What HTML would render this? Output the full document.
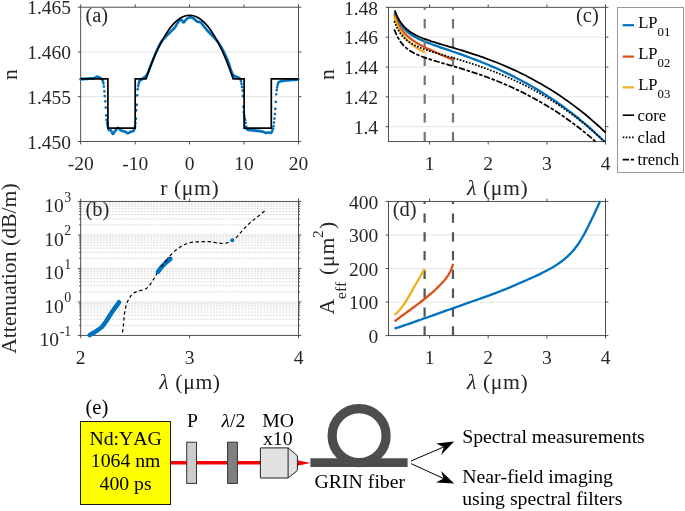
<!DOCTYPE html>
<html><head><meta charset="utf-8"><title>Figure</title>
<style>html,body{margin:0;padding:0;background:#fff}svg{display:block}text{font-family:"Liberation Serif",serif;fill:#262626;font-kerning:none}text.k{fill:#000}</style>
</head><body>
<svg width="685" height="511" viewBox="0 0 685 511">
<rect width="685" height="511" fill="#fff"/>
<g id="panel-a">
<path d="M80.7 96.7 H298.5 M80.7 52 H298.5 " stroke="#e4e4e4" stroke-width="1" fill="none"/>
<rect x="80.7" y="7.2" width="217.8" height="134.3" fill="none" stroke="#3d3d3d" stroke-width="0.9"/>
<path d="M80.7 141.5 v2.9 M80.7 7.2 v-2.9 M135.2 141.5 v2.9 M135.2 7.2 v-2.9 M189.6 141.5 v2.9 M189.6 7.2 v-2.9 M244.1 141.5 v2.9 M244.1 7.2 v-2.9 M298.5 141.5 v2.9 M298.5 7.2 v-2.9 M80.7 141.5 h-2.9 M298.5 141.5 h2.9 M80.7 96.7 h-2.9 M298.5 96.7 h2.9 M80.7 52 h-2.9 M298.5 52 h2.9 M80.7 7.2 h-2.9 M298.5 7.2 h2.9 " stroke="#3d3d3d" stroke-width="0.9" fill="none"/>
<path d="M80.5 79.3h0M81 79.3h0M81.4 79.2h0M81.9 79.2h0M82.3 79.2h0M82.8 79.1h0M83.2 79.1h0M83.7 79.1h0M84.1 79.1h0M84.6 79h0M85 79h0M85.5 79h0M85.9 78.9h0M86.4 78.9h0M86.8 78.9h0M87.3 78.8h0M87.7 78.8h0M88.2 78.8h0M88.6 78.7h0M89.1 78.7h0M89.5 78.6h0M90 78.6h0M90.4 78.6h0M90.9 78.5h0M91.3 78.5h0M91.8 78.5h0M92.2 78.5h0M92.7 78.4h0M93.1 78.4h0M93.6 78.3h0M94 78.2h0M94.5 78h0M94.9 77.8h0M95.4 77.6h0M95.8 77.3h0M96.3 77.1h0M96.7 76.9h0M97.2 76.8h0M97.6 76.8h0M98.1 77h0M98.5 77.2h0M99 77.4h0M99.4 77.7h0M99.9 77.9h0M100.3 78.2h0M100.8 78.4h0M101.2 78.8h0M101.7 79.1h0M102.1 79.6h0M102.6 80.3h0M103 81.6h0M103.5 83.6h0M103.9 86.6h0M104.4 91.3h0M104.8 96.1h0M105.3 101.3h0M105.7 107.6h0M106.2 115.4h0M106.6 119.9h0M107.1 122.9h0M107.5 125.3h0M108 127.2h0M108.4 129.2h0M108.9 129.9h0M109.3 130.1h0M109.8 130.1h0M110.2 130.2h0M110.7 130.3h0M111.1 130.7h0M111.6 131.5h0M112 132.7h0M112.5 133.6h0M112.9 134h0M113.4 133.8h0M113.8 133.2h0M114.3 132.5h0M114.7 131.8h0M115.2 131.1h0M115.6 130.4h0M116.1 129.8h0M116.5 129.1h0M117 128.5h0M117.4 128.1h0M117.9 127.9h0M118.3 128h0M118.8 128.3h0M119.2 128.8h0M119.7 129.2h0M120.1 129.7h0M120.6 130.2h0M121 130.6h0M121.5 130.8h0M121.9 131h0M122.4 131.1h0M122.8 131.2h0M123.3 131.2h0M123.7 131.3h0M124.2 131.4h0M124.6 131.5h0M125.1 131.7h0M125.5 132h0M126 132.3h0M126.4 132.6h0M126.9 132.9h0M127.3 133.1h0M127.8 133.2h0M128.2 133.1h0M128.7 133h0M129.1 132.8h0M129.6 132.5h0M130 132.2h0M130.5 131.9h0M130.9 131.7h0M131.4 131.5h0M131.8 131.3h0M132.3 131.3h0M132.7 131.2h0M133.2 131.1h0M133.6 130.8h0M134.1 130.1h0M134.5 128.6h0M135 126.2h0M135.4 123h0M135.9 118.7h0M136.3 110.3h0M136.8 104.8h0M137.2 95.3h0M137.7 89.4h0M138.1 86.3h0M138.6 84.1h0M139 82.3h0M139.5 81.1h0M139.9 80.8h0M140.3 80.4h0M140.8 80.1h0M141.2 79.8h0M141.7 79.5h0M142.1 79.1h0M142.6 78.8h0M143 78.4h0M143.5 78.1h0M143.9 77.7h0M144.4 77.4h0M144.8 77.1h0M145.3 76.7h0M145.7 76.3h0M146.2 75.8h0M146.6 75.1h0M147.1 74.4h0M147.5 73.5h0M148 72.5h0M148.4 71.4h0M148.9 70.2h0M149.3 69h0M149.8 67.9h0M150.2 66.7h0M150.7 65.6h0M151.1 64.5h0M151.6 63.3h0M152 62.2h0M152.5 61h0M152.9 59.9h0M153.4 58.7h0M153.8 57.6h0M154.3 56.5h0M154.7 55.4h0M155.2 54.3h0M155.6 53.2h0M156.1 52.2h0M156.5 51.2h0M157 50.2h0M157.4 49.2h0M157.9 48.2h0M158.3 47.3h0M158.8 46.4h0M159.2 45.5h0M159.7 44.6h0M160.1 43.8h0M160.6 43.1h0M161 42.4h0M161.5 41.7h0M161.9 41.1h0M162.4 40.5h0M162.8 40h0M163.3 39.5h0M163.7 39h0M164.2 38.5h0M164.6 38h0M165.1 37.5h0M165.5 37h0M166 36.5h0M166.4 36h0M166.9 35.5h0M167.3 35.1h0M167.8 34.6h0M168.2 34.2h0M168.7 33.7h0M169.1 33.3h0M169.6 32.8h0M170 32.4h0M170.5 31.9h0M170.9 31.5h0M171.4 31.1h0M171.8 30.7h0M172.3 30.2h0M172.7 29.8h0M173.2 29.4h0M173.6 28.9h0M174.1 28.4h0M174.5 27.9h0M175 27.4h0M175.4 26.7h0M175.9 26.1h0M176.3 25.3h0M176.8 24.5h0M177.2 23.7h0M177.7 23h0M178.1 22.2h0M178.6 21.5h0M179 20.9h0M179.5 20.4h0M179.9 20.1h0M180.4 19.9h0M180.8 19.8h0M181.3 19.9h0M181.7 20.1h0M182.2 20.7h0M182.6 21.5h0M183.1 22.2h0M183.5 22.5h0M184 22.3h0M184.4 21.8h0M184.9 21.2h0M185.3 20.6h0M185.8 20h0M186.2 19.5h0M186.7 19.1h0M187.1 18.7h0M187.6 18.4h0M188 18.2h0M188.5 17.9h0M188.9 17.7h0M189.4 17.6h0M189.8 17.5h0M190.3 17.5h0M190.7 17.5h0M191.2 17.5h0M191.6 17.6h0M192.1 17.8h0M192.5 18h0M193 18.2h0M193.4 18.4h0M193.9 18.8h0M194.3 19.1h0M194.8 19.5h0M195.2 19.9h0M195.7 20.3h0M196.1 20.7h0M196.6 21.1h0M197 21.4h0M197.5 21.7h0M197.9 21.9h0M198.4 21.9h0M198.8 22h0M199.3 22h0M199.7 22.1h0M200.2 22.2h0M200.6 22.4h0M201.1 22.8h0M201.5 23.3h0M202 23.8h0M202.4 24.4h0M202.9 25.1h0M203.3 25.7h0M203.8 26.3h0M204.2 26.9h0M204.7 27.4h0M205.1 28h0M205.6 28.5h0M206 29.1h0M206.5 29.6h0M206.9 30.2h0M207.4 30.7h0M207.8 31.2h0M208.3 31.7h0M208.7 32.2h0M209.2 32.6h0M209.6 33.1h0M210.1 33.5h0M210.5 34h0M211 34.4h0M211.4 34.8h0M211.9 35.3h0M212.3 35.7h0M212.8 36.2h0M213.2 36.7h0M213.7 37.1h0M214.1 37.6h0M214.6 38.1h0M215 38.6h0M215.5 39.1h0M215.9 39.6h0M216.4 40.1h0M216.8 40.7h0M217.3 41.2h0M217.7 41.8h0M218.2 42.4h0M218.6 43.1h0M219.1 43.8h0M219.5 44.4h0M220 45.1h0M220.4 45.9h0M220.9 46.6h0M221.3 47.4h0M221.8 48.2h0M222.2 49h0M222.7 49.8h0M223.1 50.7h0M223.6 51.6h0M224 52.4h0M224.5 53.4h0M224.9 54.3h0M225.4 55.2h0M225.8 56.2h0M226.3 57.2h0M226.7 58.2h0M227.2 59.2h0M227.6 60.3h0M228.1 61.4h0M228.5 62.5h0M229 63.8h0M229.4 65.1h0M229.9 66.6h0M230.3 68h0M230.8 69.5h0M231.2 70.8h0M231.7 72h0M232.1 73h0M232.6 74h0M233 74.8h0M233.5 75.6h0M233.9 76.4h0M234.4 76h0M234.8 76.2h0M235.3 76.4h0M235.7 76.5h0M236.2 76.7h0M236.6 76.9h0M237.1 77.1h0M237.5 77.3h0M238 77.5h0M238.4 77.7h0M238.9 77.9h0M239.3 78.2h0M239.8 78.5h0M240.2 79h0M240.7 79.9h0M241.1 81.6h0M241.6 84.1h0M242 87.1h0M242.5 90.6h0M242.9 96.2h0M243.4 106.8h0M243.8 112.3h0M244.3 115.4h0M244.7 118h0M245.2 120.2h0M245.6 123h0M246.1 126.6h0M246.5 128.9h0M247 129.6h0M247.4 129.7h0M247.9 129.8h0M248.3 129.9h0M248.8 129.9h0M249.2 130h0M249.7 130.1h0M250.1 130.1h0M250.6 130.2h0M251 130.2h0M251.5 130.3h0M251.9 130.3h0M252.4 130.4h0M252.8 130.4h0M253.3 130.5h0M253.7 130.5h0M254.2 130.6h0M254.6 130.6h0M255.1 130.7h0M255.5 130.7h0M256 130.8h0M256.4 130.8h0M256.9 130.9h0M257.3 130.9h0M257.8 131h0M258.2 131h0M258.7 131.1h0M259.1 131.1h0M259.6 131.2h0M260 131.2h0M260.5 131.3h0M260.9 131.3h0M261.4 131.4h0M261.8 131.5h0M262.3 131.6h0M262.7 131.7h0M263.2 131.9h0M263.6 132h0M264.1 132.2h0M264.5 132.4h0M265 132.6h0M265.4 132.7h0M265.9 132.9h0M266.3 132.9h0M266.8 132.9h0M267.2 132.8h0M267.7 132.6h0M268.1 132.5h0M268.6 132.4h0M269 132.5h0M269.5 132.6h0M269.9 132.8h0M270.4 133h0M270.8 133h0M271.3 132.7h0M271.7 132.2h0M272.2 131.2h0M272.6 130h0M273.1 128.5h0M273.5 126h0M274 122.6h0M274.4 118.6h0M274.9 114.1h0M275.3 108.9h0M275.8 101.9h0M276.2 94.3h0M276.7 90.2h0M277.1 87.6h0M277.6 85.3h0M278 83.5h0M278.5 82.6h0M278.9 82.2h0M279.4 81.9h0M279.8 81.7h0M280.3 81.5h0M280.7 81.4h0M281.2 81.2h0M281.6 81.1h0M282.1 81h0M282.5 81h0M283 80.9h0M283.4 80.8h0M283.9 80.8h0M284.3 80.7h0M284.8 80.6h0M285.2 80.6h0M285.7 80.5h0M286.1 80.5h0M286.6 80.4h0M287 80.4h0M287.5 80.4h0M287.9 80.3h0M288.4 80.3h0M288.8 80.2h0M289.3 80.2h0M289.7 80.2h0M290.2 80.1h0M290.6 80.1h0M291.1 80.1h0M291.5 80h0M292 80h0M292.4 80h0M292.9 79.9h0M293.3 79.9h0M293.8 79.9h0M294.2 79.8h0M294.7 79.8h0M295.1 79.8h0M295.6 79.8h0M296 79.7h0M296.5 79.7h0M296.9 79.7h0M297.4 79.7h0M297.8 79.6h0M298.3 79.6h0" fill="none" stroke="#0072BD" stroke-width="2.7" stroke-linecap="round"/>
<path d="M80.7 78.8 L107.9 78.8 L107.9 128.1 L135.2 128.1 L135.2 78.8 L146 78.8 L146 78.8 L148.8 71.1 L151.5 63.9 L154.2 57.2 L156.9 51 L159.7 45.3 L162.4 40.1 L165.1 35.4 L167.8 31.2 L170.5 27.4 L173.3 24.2 L176 21.5 L178.7 19.2 L181.4 17.5 L184.2 16.3 L186.9 15.5 L189.6 15.3 L192.3 15.5 L195 16.3 L197.8 17.5 L200.5 19.2 L203.2 21.5 L205.9 24.2 L208.7 27.4 L211.4 31.2 L214.1 35.4 L216.8 40.1 L219.5 45.3 L222.3 51 L225 57.2 L227.7 63.9 L230.4 71.1 L233.2 78.8 L233.2 78.8 L244.1 78.8 L244.1 128.1 L271.3 128.1 L271.3 78.8 L298.5 78.8" fill="none" stroke="#000" stroke-width="1.7" stroke-linejoin="miter"/>
<text x="71" y="148.6" font-size="19.5" text-anchor="end">1.450</text>
<text x="71" y="103.8" font-size="19.5" text-anchor="end">1.455</text>
<text x="71" y="59.1" font-size="19.5" text-anchor="end">1.460</text>
<text x="71" y="14.3" font-size="19.5" text-anchor="end">1.465</text>
<text x="80.7" y="170.1" font-size="19.5" text-anchor="middle">-20</text>
<text x="135.2" y="170.1" font-size="19.5" text-anchor="middle">-10</text>
<text x="189.6" y="170.1" font-size="19.5" text-anchor="middle">0</text>
<text x="244.1" y="170.1" font-size="19.5" text-anchor="middle">10</text>
<text x="298.5" y="170.1" font-size="19.5" text-anchor="middle">20</text>
<text x="189.8" y="195.2" font-size="21.7" text-anchor="middle" letter-spacing="0.6">r (μm)</text>
<text transform="translate(16.8 74.7) rotate(-90)" font-size="21.7" text-anchor="middle">n</text>
<text x="85.4" y="22.4" font-size="20.5" text-anchor="start">(a)</text>
</g>
<g id="panel-b">
<path d="M80.7 325.3 H298.5 M80.7 319.4 H298.5 M80.7 315.2 H298.5 M80.7 312 H298.5 M80.7 309.3 H298.5 M80.7 307.1 H298.5 M80.7 305.1 H298.5 M80.7 303.4 H298.5 M80.7 291.8 H298.5 M80.7 285.9 H298.5 M80.7 281.7 H298.5 M80.7 278.5 H298.5 M80.7 275.8 H298.5 M80.7 273.6 H298.5 M80.7 271.6 H298.5 M80.7 269.9 H298.5 M80.7 258.3 H298.5 M80.7 252.4 H298.5 M80.7 248.2 H298.5 M80.7 245 H298.5 M80.7 242.3 H298.5 M80.7 240.1 H298.5 M80.7 238.1 H298.5 M80.7 236.4 H298.5 M80.7 224.8 H298.5 M80.7 218.9 H298.5 M80.7 214.7 H298.5 M80.7 211.5 H298.5 M80.7 208.8 H298.5 M80.7 206.6 H298.5 M80.7 204.6 H298.5 M80.7 202.9 H298.5 " stroke="#d2d2d2" stroke-width="0.8" fill="none" stroke-dasharray="2 1.15"/>
<path d="M80.7 301.9 H298.5 M80.7 268.4 H298.5 M80.7 234.9 H298.5 " stroke="#e4e4e4" stroke-width="1" fill="none"/>
<rect x="80.7" y="201.4" width="217.8" height="134" fill="none" stroke="#3d3d3d" stroke-width="0.9"/>
<path d="M80.7 335.4 v2.9 M80.7 201.4 v-2.9 M189.6 335.4 v2.9 M189.6 201.4 v-2.9 M298.5 335.4 v2.9 M298.5 201.4 v-2.9 M80.7 335.4 h-2.9 M298.5 335.4 h2.9 M80.7 301.9 h-2.9 M298.5 301.9 h2.9 M80.7 268.4 h-2.9 M298.5 268.4 h2.9 M80.7 234.9 h-2.9 M298.5 234.9 h2.9 M80.7 201.4 h-2.9 M298.5 201.4 h2.9 M80.7 325.3 h-1.6 M298.5 325.3 h1.6 M80.7 319.4 h-1.6 M298.5 319.4 h1.6 M80.7 315.2 h-1.6 M298.5 315.2 h1.6 M80.7 312 h-1.6 M298.5 312 h1.6 M80.7 309.3 h-1.6 M298.5 309.3 h1.6 M80.7 307.1 h-1.6 M298.5 307.1 h1.6 M80.7 305.1 h-1.6 M298.5 305.1 h1.6 M80.7 303.4 h-1.6 M298.5 303.4 h1.6 M80.7 291.8 h-1.6 M298.5 291.8 h1.6 M80.7 285.9 h-1.6 M298.5 285.9 h1.6 M80.7 281.7 h-1.6 M298.5 281.7 h1.6 M80.7 278.5 h-1.6 M298.5 278.5 h1.6 M80.7 275.8 h-1.6 M298.5 275.8 h1.6 M80.7 273.6 h-1.6 M298.5 273.6 h1.6 M80.7 271.6 h-1.6 M298.5 271.6 h1.6 M80.7 269.9 h-1.6 M298.5 269.9 h1.6 M80.7 258.3 h-1.6 M298.5 258.3 h1.6 M80.7 252.4 h-1.6 M298.5 252.4 h1.6 M80.7 248.2 h-1.6 M298.5 248.2 h1.6 M80.7 245 h-1.6 M298.5 245 h1.6 M80.7 242.3 h-1.6 M298.5 242.3 h1.6 M80.7 240.1 h-1.6 M298.5 240.1 h1.6 M80.7 238.1 h-1.6 M298.5 238.1 h1.6 M80.7 236.4 h-1.6 M298.5 236.4 h1.6 M80.7 224.8 h-1.6 M298.5 224.8 h1.6 M80.7 218.9 h-1.6 M298.5 218.9 h1.6 M80.7 214.7 h-1.6 M298.5 214.7 h1.6 M80.7 211.5 h-1.6 M298.5 211.5 h1.6 M80.7 208.8 h-1.6 M298.5 208.8 h1.6 M80.7 206.6 h-1.6 M298.5 206.6 h1.6 M80.7 204.6 h-1.6 M298.5 204.6 h1.6 M80.7 202.9 h-1.6 M298.5 202.9 h1.6 " stroke="#3d3d3d" stroke-width="0.9" fill="none"/>
<path d="M122.5 332.5 L122.7 331.2 L122.9 329.9 L123.1 328.6 L123.2 327.3 L123.3 326 L123.4 324.7 L123.6 323.4 L123.7 322 L123.8 320.7 L123.9 319.4 L124 318.1 L124.1 316.8 L124.3 315.5 L124.4 314.2 L124.6 312.9 L124.8 311.6 L125 310.3 L125.3 309 L125.6 307.7 L125.9 306.5 L126.3 305.2 L126.7 303.9 L127.1 302.7 L127.6 301.4 L128.2 300.2 L128.8 299 L129.5 297.9 L130.2 296.8 L131 295.7 L131.9 294.8 L132.8 293.9 L133.8 293.1 L134.9 292.4 L136.1 291.9 L137.3 291.4 L138.6 291 L139.9 290.7 L141.2 290.3 L142.5 290 L143.7 289.7 L144.9 289.2 L146 288.7 L147 288 L148 287.2 L148.8 286.2 L149.6 285.2 L150.4 284.2 L151.1 283.1 L151.8 282 L152.5 280.8 L153.2 279.7 L153.9 278.6 L154.5 277.4 L155.2 276.3 L155.9 275.2 L156.6 274.1 L157.3 273 L158 271.8 L158.7 270.7 L159.4 269.6 L160.1 268.5 L160.9 267.4 L161.6 266.3 L162.4 265.2 L163.1 264.2 L163.9 263.1 L164.7 262 L165.5 261 L166.3 260 L167.2 258.9 L168 257.9 L168.9 256.9 L169.7 256 L170.6 255 L171.6 254.1 L172.5 253.1 L173.5 252.2 L174.4 251.4 L175.4 250.5 L176.4 249.7 L177.5 248.9 L178.5 248.1 L179.6 247.4 L180.7 246.6 L181.8 246 L183 245.3 L184.2 244.8 L185.3 244.2 L186.6 243.7 L187.8 243.3 L189 242.9 L190.3 242.6 L191.6 242.4 L192.9 242.2 L194.2 242 L195.6 241.9 L196.9 241.9 L198.2 241.8 L199.6 241.8 L200.9 241.7 L202.2 241.7 L203.5 241.6 L204.8 241.6 L206.1 241.6 L207.4 241.6 L208.7 241.7 L210 241.7 L211.3 241.9 L212.6 242.1 L213.9 242.3 L215.2 242.5 L216.6 242.8 L217.9 243 L219.2 243.2 L220.5 243.3 L221.8 243.4 L223.1 243.5 L224.4 243.4 L225.7 243.2 L227 242.9 L228.2 242.5 L229.4 242.1 L230.6 241.5 L231.8 240.9 L232.9 240.2 L233.9 239.4 L234.9 238.6 L235.9 237.7 L236.8 236.8 L237.7 235.8 L238.6 234.8 L239.5 233.8 L240.4 232.8 L241.3 231.8 L242.1 230.8 L243 229.8 L243.9 228.9 L244.8 227.9 L245.7 227 L246.6 226 L247.6 225.1 L248.5 224.2 L249.5 223.4 L250.4 222.5 L251.4 221.6 L252.4 220.8 L253.4 220 L254.5 219.1 L255.5 218.3 L256.6 217.5 L257.6 216.7 L258.6 215.9 L259.7 215.1 L260.7 214.3 L261.7 213.4 L262.8 212.6 L263.8 211.7 L264.7 210.9 L265.7 210" fill="none" stroke="#000" stroke-width="1.2" stroke-dasharray="3.4 2.6"/>
<path d="M89.8 335 L95 332 L102 327 L106 321.5 L112 312 L119 302.3" fill="none" stroke="#0072BD" stroke-width="4.6" stroke-linecap="round" stroke-linejoin="round"/>
<path d="M157.9 271.8 L161.5 267.2 L165.5 263 L170.4 259" fill="none" stroke="#0072BD" stroke-width="4.6" stroke-linecap="round" stroke-linejoin="round"/>
<circle cx="232.3" cy="240.2" r="2" fill="#0072BD"/>
<path d="M161 267 L165 262 L169.5 257" fill="none" stroke="#000" stroke-width="1.2" stroke-dasharray="3.4 2.6"/>
<text x="71.2" y="346.2" font-size="19.5" text-anchor="end">10<tspan font-size="13.8" dy="-10.6" dx="0.6">-1</tspan></text>
<text x="71.2" y="312.7" font-size="19.5" text-anchor="end">10<tspan font-size="13.8" dy="-10.6" dx="0.6">0</tspan></text>
<text x="71.2" y="279.2" font-size="19.5" text-anchor="end">10<tspan font-size="13.8" dy="-10.6" dx="0.6">1</tspan></text>
<text x="71.2" y="245.7" font-size="19.5" text-anchor="end">10<tspan font-size="13.8" dy="-10.6" dx="0.6">2</tspan></text>
<text x="71.2" y="212.2" font-size="19.5" text-anchor="end">10<tspan font-size="13.8" dy="-10.6" dx="0.6">3</tspan></text>
<text x="80.7" y="364" font-size="19.5" text-anchor="middle">2</text>
<text x="189.6" y="364" font-size="19.5" text-anchor="middle">3</text>
<text x="298.5" y="364" font-size="19.5" text-anchor="middle">4</text>
<text x="190" y="388.7" font-size="21.7" text-anchor="middle" letter-spacing="0.6"><tspan font-style="italic">λ</tspan> (μm)</text>
<text transform="translate(15.6 268.6) rotate(-90)" font-size="21.7" text-anchor="middle">Attenuation (dB/m)</text>
<text x="85.5" y="216" font-size="20.5" text-anchor="start">(b)</text>
</g>
<g id="panel-c">
<path d="M388.5 126.7 H605.5 M388.5 96.8 H605.5 M388.5 67 H605.5 M388.5 37.1 H605.5 " stroke="#e4e4e4" stroke-width="1" fill="none"/>
<rect x="388.5" y="7.3" width="217" height="134.3" fill="none" stroke="#3d3d3d" stroke-width="0.9"/>
<path d="M429.6 141.6 v2.9 M429.6 7.3 v-2.9 M488.2 141.6 v2.9 M488.2 7.3 v-2.9 M546.9 141.6 v2.9 M546.9 7.3 v-2.9 M605.5 141.6 v2.9 M605.5 7.3 v-2.9 M388.5 126.7 h-2.9 M605.5 126.7 h2.9 M388.5 96.8 h-2.9 M605.5 96.8 h2.9 M388.5 67 h-2.9 M605.5 67 h2.9 M388.5 37.1 h-2.9 M605.5 37.1 h2.9 M388.5 7.3 h-2.9 M605.5 7.3 h2.9 " stroke="#3d3d3d" stroke-width="0.9" fill="none"/>
<path d="M394.5 12.4 L397.5 19.5 L400.6 24.5 L403.7 28.3 L406.7 31.3 L409.8 33.7 L412.8 35.7 L415.9 37.5 L418.9 39 L422 40.4 L425.1 41.7 L428.1 42.9 L431.2 44 L434.2 45.2 L437.3 46.2 L440.4 47.3 L443.4 48.3 L446.5 49.4 L449.5 50.4 L452.6 51.5 L455.6 52.5 L458.7 53.6 L461.8 54.7 L464.8 55.8 L467.9 56.9 L470.9 58 L474 59.2 L477.1 60.3 L480.1 61.5 L483.2 62.8 L486.2 64 L489.3 65.3 L492.3 66.6 L495.4 67.9 L498.5 69.3 L501.5 70.7 L504.6 72.1 L507.6 73.6 L510.7 75.1 L513.8 76.6 L516.8 78.2 L519.9 79.8 L522.9 81.4 L526 83.1 L529 84.8 L532.1 86.5 L535.2 88.3 L538.2 90.1 L541.3 92 L544.3 93.9 L547.4 95.9 L550.5 97.9 L553.5 99.9 L556.6 102 L559.6 104.2 L562.7 106.3 L565.7 108.6 L568.8 110.9 L571.9 113.2 L574.9 115.6 L578 118 L581 120.6 L584.1 123.1 L587.2 125.7 L590.2 128.4 L593.3 131.2 L596.3 134 L599.4 136.8 L602.4 139.8 L604.3 141.6" fill="none" stroke="#0072BD" stroke-width="2.3"/>
<path d="M424.7 141.3 V7.5 M453 141.3 V7.5" stroke="#757575" stroke-width="2.2" stroke-dasharray="9.4 9.4" fill="none"/>
<path d="M394.2 14.5 L396.2 19.9 L398.2 24.1 L400.3 27.6 L402.3 30.5 L404.3 32.9 L406.4 35 L408.4 36.9 L410.4 38.5 L412.4 40.1 L414.5 41.4 L416.5 42.7 L418.5 43.9 L420.6 45 L422.6 46.1 L424.6 47.2 L426.6 48.2 L428.7 49.1 L430.7 50.1 L432.7 51 L434.8 51.9 L436.8 52.8 L438.8 53.7 L440.8 54.6 L442.9 55.5 L444.9 56.3 L446.9 57.2 L449 58.1 L451 59 L453 59.9" fill="none" stroke="#D95319" stroke-width="2.3"/>
<path d="M394.2 16.7 L395.5 20.7 L396.9 24.1 L398.2 27.1 L399.6 29.7 L400.9 32 L402.3 34 L403.6 35.9 L405 37.6 L406.3 39.1 L407.7 40.5 L409 41.8 L410.3 43.1 L411.7 44.2 L413 45.2 L414.4 46.2 L415.7 47.2 L417.1 48.1 L418.4 48.9 L419.8 49.7 L421.1 50.4 L422.5 51.1 L423.8 51.8 L425.2 52.5" fill="none" stroke="#EDB120" stroke-width="2.3"/>
<path d="M394.7 10.4 L397.7 17.5 L400.8 22.6 L403.8 26.4 L406.9 29.3 L409.9 31.7 L413 33.6 L416 35.3 L419.1 36.7 L422.2 38 L425.2 39.2 L428.3 40.2 L431.3 41.3 L434.4 42.2 L437.4 43.2 L440.5 44.1 L443.5 45 L446.6 45.9 L449.7 46.8 L452.7 47.6 L455.8 48.6 L458.8 49.5 L461.9 50.4 L464.9 51.3 L468 52.3 L471.1 53.3 L474.1 54.3 L477.2 55.3 L480.2 56.4 L483.3 57.4 L486.3 58.6 L489.4 59.7 L492.4 60.9 L495.5 62 L498.6 63.3 L501.6 64.5 L504.7 65.8 L507.7 67.1 L510.8 68.5 L513.8 69.9 L516.9 71.3 L519.9 72.8 L523 74.3 L526.1 75.8 L529.1 77.4 L532.2 79 L535.2 80.7 L538.3 82.4 L541.3 84.1 L544.4 85.9 L547.4 87.7 L550.5 89.6 L553.6 91.5 L556.6 93.5 L559.7 95.5 L562.7 97.6 L565.8 99.7 L568.8 101.9 L571.9 104.1 L574.9 106.4 L578 108.7 L581.1 111.1 L584.1 113.5 L587.2 116 L590.2 118.6 L593.3 121.3 L596.3 124 L599.4 126.7 L602.4 129.6 L605.5 132.5" fill="none" stroke="#000" stroke-width="1.75"/>
<path d="M394.2 21.1 L397.3 28.3 L400.3 33.3 L403.4 37.1 L406.4 39.9 L409.5 42.2 L412.6 44.1 L415.6 45.7 L418.7 47 L421.8 48.3 L424.8 49.4 L427.9 50.4 L430.9 51.4 L434 52.4 L437.1 53.3 L440.1 54.2 L443.2 55.1 L446.3 56 L449.3 56.8 L452.4 57.7 L455.4 58.6 L458.5 59.5 L461.6 60.5 L464.6 61.4 L467.7 62.4 L470.8 63.3 L473.8 64.3 L476.9 65.4 L479.9 66.4 L483 67.5 L486.1 68.6 L489.1 69.7 L492.2 70.9 L495.3 72.1 L498.3 73.3 L501.4 74.6 L504.4 75.9 L507.5 77.2 L510.6 78.5 L513.6 79.9 L516.7 81.4 L519.8 82.8 L522.8 84.3 L525.9 85.9 L528.9 87.4 L532 89.1 L535.1 90.7 L538.1 92.4 L541.2 94.2 L544.3 96 L547.3 97.8 L550.4 99.7 L553.4 101.6 L556.5 103.6 L559.6 105.6 L562.6 107.7 L565.7 109.8 L568.8 112 L571.8 114.2 L574.9 116.5 L577.9 118.8 L581 121.2 L584.1 123.6 L587.1 126.2 L590.2 128.7 L593.3 131.4 L596.3 134.1 L599.4 136.9 L602.4 139.7 L604.4 141.6" fill="none" stroke="#000" stroke-width="1.75" stroke-dasharray="1.7 1.5"/>
<path d="M394.2 29.3 L397.3 36.5 L400.3 41.6 L403.4 45.3 L406.4 48.1 L409.5 50.4 L412.6 52.3 L415.6 53.9 L418.7 55.3 L421.8 56.5 L424.8 57.6 L427.9 58.7 L430.9 59.6 L434 60.6 L437.1 61.5 L440.1 62.4 L443.2 63.3 L446.3 64.2 L449.3 65.1 L452.4 65.9 L455.4 66.8 L458.5 67.7 L461.6 68.7 L464.6 69.6 L467.7 70.6 L470.8 71.6 L473.8 72.6 L476.9 73.6 L479.9 74.6 L483 75.7 L486.1 76.8 L489.1 78 L492.2 79.1 L495.3 80.3 L498.3 81.5 L501.4 82.8 L504.4 84.1 L507.5 85.4 L510.6 86.8 L513.6 88.1 L516.7 89.6 L519.8 91 L522.8 92.5 L525.9 94.1 L528.9 95.7 L532 97.3 L535.1 98.9 L538.1 100.6 L541.2 102.4 L544.3 104.2 L547.3 106 L550.4 107.9 L553.4 109.8 L556.5 111.8 L559.6 113.8 L562.6 115.9 L565.7 118 L568.8 120.2 L571.8 122.4 L574.9 124.7 L577.9 127 L581 129.4 L584.1 131.9 L587.1 134.4 L590.2 136.9 L593.3 139.6 L595.5 141.6" fill="none" stroke="#000" stroke-width="1.75" stroke-dasharray="6.3 1.7 3.5 1.7"/>
<text x="378" y="133.9" font-size="19.5" text-anchor="end">1.4</text>
<text x="378" y="104" font-size="19.5" text-anchor="end">1.42</text>
<text x="378" y="74.2" font-size="19.5" text-anchor="end">1.44</text>
<text x="378" y="44.3" font-size="19.5" text-anchor="end">1.46</text>
<text x="378" y="14.5" font-size="19.5" text-anchor="end">1.48</text>
<text x="429.6" y="170.1" font-size="19.5" text-anchor="middle">1</text>
<text x="488.2" y="170.1" font-size="19.5" text-anchor="middle">2</text>
<text x="546.9" y="170.1" font-size="19.5" text-anchor="middle">3</text>
<text x="605.5" y="170.1" font-size="19.5" text-anchor="middle">4</text>
<text x="497.6" y="195.2" font-size="21.7" text-anchor="middle" letter-spacing="0.6"><tspan font-style="italic">λ</tspan> (μm)</text>
<text transform="translate(333.7 74.6) rotate(-90)" font-size="21.7" text-anchor="middle">n</text>
<text x="576" y="22.3" font-size="20.5" text-anchor="start">(c)</text>
<rect x="617.5" y="7.5" width="66" height="165" fill="#fff" stroke="#999" stroke-width="1"/>
<path d="M622.7 25.2 H634" stroke="#0072BD" stroke-width="2.2"/>
<text x="638.2" y="27.8" font-size="16.6" class="k">LP<tspan font-size="12.8" dy="8.2">01</tspan></text>
<path d="M622.7 56.6 H634" stroke="#D95319" stroke-width="2.2"/>
<text x="638.2" y="59.2" font-size="16.6" class="k">LP<tspan font-size="12.8" dy="8.2">02</tspan></text>
<path d="M622.7 87.4 H634" stroke="#EDB120" stroke-width="2.2"/>
<text x="638.2" y="90" font-size="16.6" class="k">LP<tspan font-size="12.8" dy="8.2">03</tspan></text>
<path d="M622.7 115.2 H634" stroke="#000" stroke-width="1.6"/>
<text x="637.6" y="120.6" font-size="16.6" class="k">core</text>
<path d="M622.7 137.4 H634" stroke="#000" stroke-width="1.6" stroke-dasharray="1.6 1.5"/>
<text x="637.6" y="142.8" font-size="16.6" class="k">clad</text>
<path d="M622.7 159.6 H634" stroke="#000" stroke-width="1.6" stroke-dasharray="6.3 1.7 3.5 5"/>
<text x="637.6" y="165" font-size="16.6" class="k">trench</text>
</g>
<g id="panel-d">
<path d="M388.5 302.1 H605.5 M388.5 268.5 H605.5 M388.5 235 H605.5 " stroke="#e4e4e4" stroke-width="1" fill="none"/>
<rect x="388.5" y="201.4" width="217" height="134.2" fill="none" stroke="#3d3d3d" stroke-width="0.9"/>
<path d="M429.6 335.6 v2.9 M429.6 201.4 v-2.9 M488.2 335.6 v2.9 M488.2 201.4 v-2.9 M546.9 335.6 v2.9 M546.9 201.4 v-2.9 M605.5 335.6 v2.9 M605.5 201.4 v-2.9 M388.5 335.6 h-2.9 M605.5 335.6 h2.9 M388.5 302.1 h-2.9 M605.5 302.1 h2.9 M388.5 268.5 h-2.9 M605.5 268.5 h2.9 M388.5 235 h-2.9 M605.5 235 h2.9 M388.5 201.4 h-2.9 M605.5 201.4 h2.9 " stroke="#3d3d3d" stroke-width="0.9" fill="none"/>
<path d="M424.6 335.5 V201.5 M453 335.5 V201.5" stroke="#555" stroke-width="2.2" stroke-dasharray="9.3 9.5" fill="none"/>
<path d="M394.6 315 L395.6 314 L396.7 313 L397.7 312 L398.6 311 L399.6 310 L400.5 308.9 L401.4 307.8 L402.2 306.7 L403.1 305.6 L403.9 304.5 L404.7 303.3 L405.4 302.1 L406.2 300.9 L406.9 299.7 L407.7 298.5 L408.4 297.3 L409.1 296.1 L409.8 294.9 L410.5 293.6 L411.2 292.4 L411.8 291.2 L412.5 289.9 L413.2 288.7 L413.9 287.4 L414.6 286.2 L415.3 285 L416 283.7 L416.7 282.5 L417.4 281.3 L418.1 280.1 L418.8 278.9 L419.6 277.7 L420.3 276.5 L421 275.3 L421.7 274.1 L422.3 272.9 L423 271.6 L423.6 270.4 L424.2 269.2" fill="none" stroke="#EDB120" stroke-width="2.3"/>
<path d="M394.6 321.3 L396 320.3 L397.3 319.3 L398.6 318.3 L400 317.3 L401.4 316.2 L402.7 315.2 L404.1 314.2 L405.5 313.2 L406.8 312.2 L408.2 311.2 L409.6 310.2 L411 309.2 L412.3 308.2 L413.7 307.2 L415.1 306.2 L416.5 305.1 L417.8 304.1 L419.2 303.1 L420.6 302 L421.9 301 L423.3 299.9 L424.6 298.9 L426 297.8 L427.3 296.7 L428.6 295.6 L429.9 294.5 L431.2 293.4 L432.5 292.3 L433.8 291.1 L435 290 L436.3 288.8 L437.5 287.6 L438.7 286.4 L439.9 285.2 L441.1 284 L442.2 282.8 L443.4 281.5 L444.5 280.2 L445.5 278.9 L446.6 277.6 L447.5 276.2 L448.5 274.8 L449.3 273.3 L450.1 271.9 L450.8 270.4 L451.5 268.8 L452.1 267.2 L452.6 265.5 L453 263.8" fill="none" stroke="#D95319" stroke-width="2.3"/>
<path d="M394.5 328.6 L396.6 327.9 L398.6 327.3 L400.7 326.6 L402.7 325.9 L404.8 325.2 L406.9 324.5 L408.9 323.8 L411 323.1 L413 322.4 L415.1 321.6 L417.2 320.9 L419.2 320.2 L421.3 319.5 L423.3 318.7 L425.4 318 L427.5 317.3 L429.5 316.5 L431.6 315.8 L433.6 315.1 L435.7 314.4 L437.8 313.6 L439.8 312.9 L441.9 312.2 L444 311.4 L446 310.7 L448.1 310 L450.1 309.3 L452.2 308.5 L454.3 307.8 L456.3 307.1 L458.4 306.3 L460.4 305.6 L462.5 304.9 L464.6 304.1 L466.6 303.4 L468.7 302.7 L470.7 302 L472.8 301.2 L474.9 300.5 L476.9 299.8 L479 299 L481 298.3 L483.1 297.6 L485.2 296.8 L487.2 296.1 L489.3 295.4 L491.3 294.6 L493.4 293.9 L495.5 293.1 L497.5 292.3 L499.6 291.5 L501.6 290.7 L503.7 289.9 L505.8 289.1 L507.8 288.2 L509.9 287.4 L511.9 286.5 L514 285.6 L516.1 284.7 L518.1 283.8 L520.2 282.9 L522.2 282 L524.3 281.1 L526.4 280.2 L528.4 279.3 L530.5 278.4 L532.5 277.5 L534.6 276.5 L536.7 275.6 L538.7 274.6 L540.8 273.6 L542.9 272.6 L544.9 271.5 L547 270.4 L549 269.3 L551.1 268.2 L553.2 266.9 L555.2 265.7 L557.3 264.4 L559.3 263 L561.4 261.5 L563.5 259.9 L565.5 258.2 L567.6 256.4 L569.6 254.4 L571.7 252.2 L573.8 249.9 L575.8 247.3 L577.9 244.5 L579.9 241.4 L582 238 L584.1 234.4 L586.1 230.6 L588.2 226.5 L590.2 222.3 L592.3 218.1 L594.4 213.7 L596.4 209.3 L598.5 204.8 L600.2 201.1" fill="none" stroke="#0072BD" stroke-width="2.3"/>
<text x="378.3" y="343" font-size="19.5" text-anchor="end">0</text>
<text x="378.3" y="309.4" font-size="19.5" text-anchor="end">100</text>
<text x="378.3" y="275.9" font-size="19.5" text-anchor="end">200</text>
<text x="378.3" y="242.4" font-size="19.5" text-anchor="end">300</text>
<text x="378.3" y="208.8" font-size="19.5" text-anchor="end">400</text>
<text x="429.6" y="364" font-size="19.5" text-anchor="middle">1</text>
<text x="488.2" y="364" font-size="19.5" text-anchor="middle">2</text>
<text x="546.9" y="364" font-size="19.5" text-anchor="middle">3</text>
<text x="605.5" y="364" font-size="19.5" text-anchor="middle">4</text>
<text x="497.6" y="388.7" font-size="21.7" text-anchor="middle" letter-spacing="0.6"><tspan font-style="italic">λ</tspan> (μm)</text>
<text transform="translate(333.5 314.6) rotate(-90)" font-size="21.7" text-anchor="start">A<tspan font-size="15.4" dy="12.5">eff</tspan><tspan dy="-12.5" dx="0.7" letter-spacing="0.8"> (μm</tspan><tspan font-size="15.4" dy="-11" dx="-1.2">2</tspan><tspan dy="11" dx="1.3">)</tspan></text>
<text x="392.8" y="216" font-size="20.5" text-anchor="start">(d)</text>
</g>
<g id="panel-e">
<text x="85.4" y="413.6" font-size="20.6" text-anchor="start" class="k">(e)</text>
<path d="M170.5 462.7 H298" stroke="#ff0000" stroke-width="3.4"/>
<path d="M297.5 460.3 L310.5 462.9 L297.5 465.7 Z" fill="#ff0000"/>
<rect x="80.5" y="421.5" width="90" height="83" fill="#ffff00" stroke="#1a1a1a" stroke-width="1"/>
<text x="125.6" y="445" font-size="19.75" text-anchor="middle" class="k">Nd:YAG</text>
<text x="125.6" y="467.3" font-size="19.75" text-anchor="middle" class="k">1064 nm</text>
<text x="125.6" y="490.3" font-size="19.75" text-anchor="middle" class="k">400 ps</text>
<rect x="186.7" y="442.2" width="9.8" height="41.2" fill="#cccccc" stroke="#333" stroke-width="1"/>
<rect x="227.6" y="442.2" width="9.8" height="41.2" fill="#808080" stroke="#333" stroke-width="1"/>
<path d="M260.4 447.9 H288.1 V478 H260.4 Z M288.1 447.9 L297.4 455.8 V470.5 L288.1 478" fill="#e2e2e2" stroke="#222" stroke-width="1" stroke-linejoin="round"/>
<text x="192.4" y="427.2" font-size="19.75" text-anchor="middle" class="k">P</text>
<text x="233.4" y="427.2" font-size="19.75" text-anchor="middle" class="k"><tspan font-style="italic">λ</tspan>/2</text>
<text x="278.2" y="427.2" font-size="19.75" text-anchor="middle" class="k">MO</text>
<text x="277.8" y="444.6" font-size="19.75" text-anchor="middle" class="k">x10</text>
<path d="M310.4 462.7 H407.6" stroke="#4d4d4d" stroke-width="8.8" fill="none"/>
<circle cx="359.1" cy="435.7" r="27" fill="none" stroke="#4d4d4d" stroke-width="9.2"/>
<text x="314.6" y="487.6" font-size="19.75" text-anchor="start" class="k">GRIN fiber</text>
<path d="M411 461 L444.5 446.6 M411 463.6 L444 478.7" stroke="#000" stroke-width="1" fill="none"/>
<path d="M454.2 441.6 L436 443.6 L443.9 446.9 L441.1 455 Z" fill="#000"/>
<path d="M454.2 483.5 L441.1 470.9 L443.5 478.4 L436 482.4 Z" fill="#000"/>
<text x="462.2" y="442.9" font-size="19.75" text-anchor="start" class="k">Spectral measurements</text>
<text x="462.2" y="483.2" font-size="19.75" text-anchor="start" class="k">Near-field imaging</text>
<text x="462.2" y="505.3" font-size="19.75" text-anchor="start" class="k">using spectral filters</text>
</g>
</svg></body></html>
